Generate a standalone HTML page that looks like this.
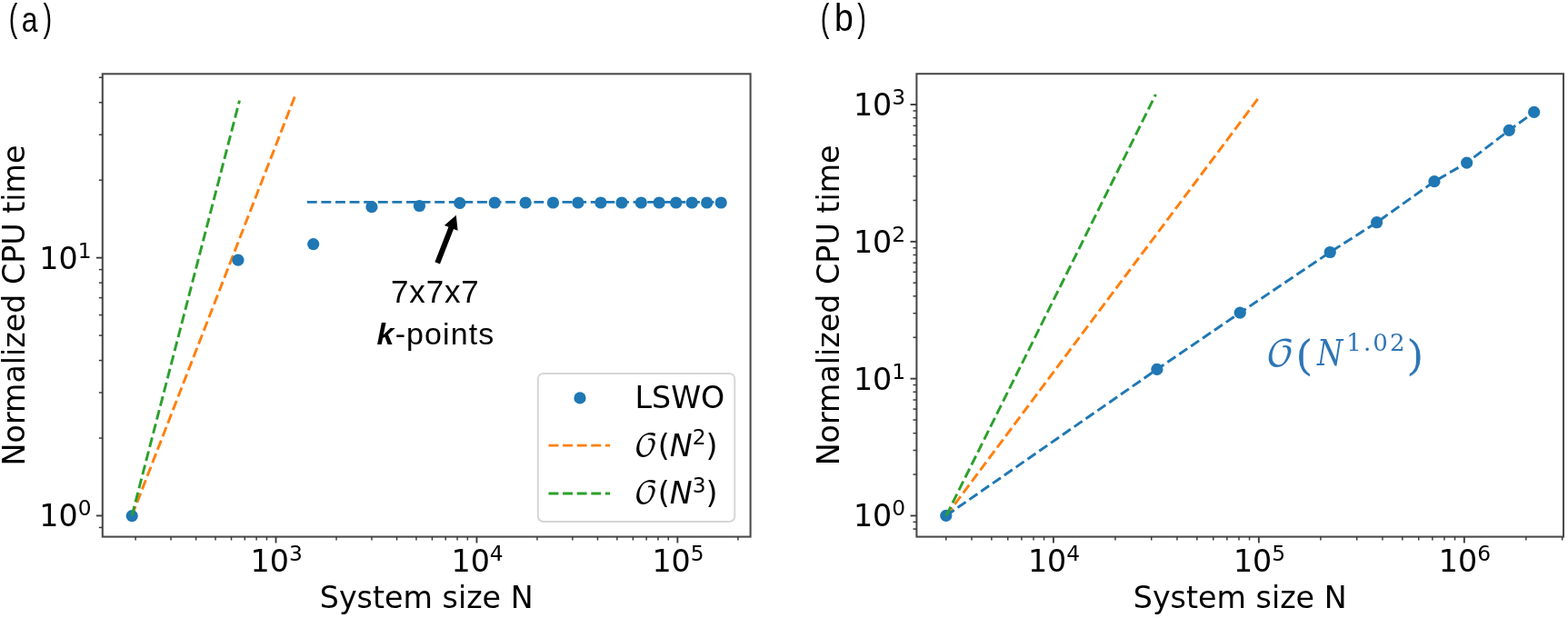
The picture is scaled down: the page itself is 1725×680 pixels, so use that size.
<!DOCTYPE html><html><head><meta charset="utf-8"><style>html,body{margin:0;padding:0;background:#fff}svg{display:block}.t{font-family:"DejaVu Sans",sans-serif;fill:#000}.c{font-family:"Liberation Sans",sans-serif;fill:#000}.m{font-family:"DejaVu Math TeX Gyre","DejaVu Serif",serif;fill:#2e75b6}.cal{font-family:"DejaVu Math TeX Gyre","DejaVu Serif",serif}</style></head><body>
<svg width="1725" height="680" viewBox="0 0 1725 680">
<rect width="1725" height="680" fill="#fff"/>
<text class="c" transform="translate(9.76,33.6) scale(0.68,1)" font-size="42.5">(</text><text class="c" transform="translate(23.76,34.6) scale(0.82,1)" font-size="39">a</text><text class="c" transform="translate(47.5,33.6) scale(0.68,1)" font-size="42.5">)</text>
<text class="c" transform="translate(902.66,33.6) scale(0.68,1)" font-size="42.5">(</text><text class="c" transform="translate(917.9,33.8) scale(0.89,1)" font-size="42">b</text><text class="c" transform="translate(943.3,33.6) scale(0.68,1)" font-size="42.5">)</text>
<rect x="112.8" y="81.3" width="712.80" height="509.30" fill="none" stroke="#4a4a4a" stroke-width="2.07" stroke-linejoin="miter"/>
<g stroke="#3a3a3a"><line x1="149.12" y1="590.60" x2="149.12" y2="594.52" stroke-width="1.48"/><line x1="188.02" y1="590.60" x2="188.02" y2="594.52" stroke-width="1.48"/><line x1="215.62" y1="590.60" x2="215.62" y2="594.52" stroke-width="1.48"/><line x1="237.03" y1="590.60" x2="237.03" y2="594.52" stroke-width="1.48"/><line x1="254.52" y1="590.60" x2="254.52" y2="594.52" stroke-width="1.48"/><line x1="269.31" y1="590.60" x2="269.31" y2="594.52" stroke-width="1.48"/><line x1="282.12" y1="590.60" x2="282.12" y2="594.52" stroke-width="1.48"/><line x1="293.43" y1="590.60" x2="293.43" y2="594.52" stroke-width="1.48"/><line x1="303.53" y1="590.60" x2="303.53" y2="597.47" stroke-width="1.87"/><line x1="370.04" y1="590.60" x2="370.04" y2="594.52" stroke-width="1.48"/><line x1="408.94" y1="590.60" x2="408.94" y2="594.52" stroke-width="1.48"/><line x1="436.54" y1="590.60" x2="436.54" y2="594.52" stroke-width="1.48"/><line x1="457.95" y1="590.60" x2="457.95" y2="594.52" stroke-width="1.48"/><line x1="475.44" y1="590.60" x2="475.44" y2="594.52" stroke-width="1.48"/><line x1="490.23" y1="590.60" x2="490.23" y2="594.52" stroke-width="1.48"/><line x1="503.05" y1="590.60" x2="503.05" y2="594.52" stroke-width="1.48"/><line x1="514.35" y1="590.60" x2="514.35" y2="594.52" stroke-width="1.48"/><line x1="524.46" y1="590.60" x2="524.46" y2="597.47" stroke-width="1.87"/><line x1="590.96" y1="590.60" x2="590.96" y2="594.52" stroke-width="1.48"/><line x1="629.86" y1="590.60" x2="629.86" y2="594.52" stroke-width="1.48"/><line x1="657.46" y1="590.60" x2="657.46" y2="594.52" stroke-width="1.48"/><line x1="678.87" y1="590.60" x2="678.87" y2="594.52" stroke-width="1.48"/><line x1="696.37" y1="590.60" x2="696.37" y2="594.52" stroke-width="1.48"/><line x1="711.16" y1="590.60" x2="711.16" y2="594.52" stroke-width="1.48"/><line x1="723.97" y1="590.60" x2="723.97" y2="594.52" stroke-width="1.48"/><line x1="735.27" y1="590.60" x2="735.27" y2="594.52" stroke-width="1.48"/><line x1="745.38" y1="590.60" x2="745.38" y2="597.47" stroke-width="1.87"/><line x1="811.88" y1="590.60" x2="811.88" y2="594.52" stroke-width="1.48"/><line x1="112.80" y1="580.44" x2="108.88" y2="580.44" stroke-width="1.48"/><line x1="112.80" y1="567.45" x2="105.93" y2="567.45" stroke-width="1.87"/><line x1="112.80" y1="482.02" x2="108.88" y2="482.02" stroke-width="1.48"/><line x1="112.80" y1="432.04" x2="108.88" y2="432.04" stroke-width="1.48"/><line x1="112.80" y1="396.58" x2="108.88" y2="396.58" stroke-width="1.48"/><line x1="112.80" y1="369.08" x2="108.88" y2="369.08" stroke-width="1.48"/><line x1="112.80" y1="346.61" x2="108.88" y2="346.61" stroke-width="1.48"/><line x1="112.80" y1="327.61" x2="108.88" y2="327.61" stroke-width="1.48"/><line x1="112.80" y1="311.15" x2="108.88" y2="311.15" stroke-width="1.48"/><line x1="112.80" y1="296.63" x2="108.88" y2="296.63" stroke-width="1.48"/><line x1="112.80" y1="283.64" x2="105.93" y2="283.64" stroke-width="1.87"/><line x1="112.80" y1="198.21" x2="108.88" y2="198.21" stroke-width="1.48"/><line x1="112.80" y1="148.24" x2="108.88" y2="148.24" stroke-width="1.48"/><line x1="112.80" y1="112.78" x2="108.88" y2="112.78" stroke-width="1.48"/><line x1="112.80" y1="85.27" x2="108.88" y2="85.27" stroke-width="1.48"/></g>
<text class="t" x="304.13" y="629.4" font-size="33.3" text-anchor="middle">10<tspan font-size="23.31" dy="-12">3</tspan></text>
<text class="t" x="525.06" y="629.4" font-size="33.3" text-anchor="middle">10<tspan font-size="23.31" dy="-12">4</tspan></text>
<text class="t" x="745.98" y="629.4" font-size="33.3" text-anchor="middle">10<tspan font-size="23.31" dy="-12">5</tspan></text>
<text class="t" x="100.50" y="579.45" font-size="33.3" text-anchor="end">10<tspan font-size="23.31" dy="-12">0</tspan></text>
<text class="t" x="100.50" y="295.64" font-size="33.3" text-anchor="end">10<tspan font-size="23.31" dy="-12">1</tspan></text>
<text class="t" x="469.20" y="669.2" font-size="33.3" text-anchor="middle">System size N</text>
<text class="t" transform="translate(27,335.95) rotate(-90)" x="0" y="0" font-size="33.3" text-anchor="middle">Normalized CPU time</text>
<defs><clipPath id="ca"><rect x="112.8" y="81.3" width="712.8000000000001" height="509.3"/></clipPath><clipPath id="cb"><rect x="1008.4" y="81.2" width="711.6" height="509.40000000000003"/></clipPath></defs>
<g clip-path="url(#ca)">
<polyline points="145.1,567.45 324.9,104.7" fill="none" stroke="#ff7f0e" stroke-width="2.94" stroke-dasharray="10.89,4.71"/>
<line x1="337.8" y1="222.4" x2="793.0" y2="222.4" stroke="#1f77b4" stroke-width="2.94" stroke-dasharray="10.89,4.71"/>
<circle cx="145.20" cy="567.60" r="6.6" fill="#1f77b4"/>
<circle cx="261.91" cy="286.19" r="6.6" fill="#1f77b4"/>
<circle cx="344.71" cy="268.59" r="6.6" fill="#1f77b4"/>
<circle cx="408.94" cy="227.69" r="6.6" fill="#1f77b4"/>
<circle cx="461.42" cy="226.49" r="6.6" fill="#1f77b4"/>
<circle cx="505.79" cy="223.39" r="6.6" fill="#1f77b4"/>
<circle cx="544.22" cy="222.99" r="6.6" fill="#1f77b4"/>
<circle cx="578.13" cy="222.99" r="6.6" fill="#1f77b4"/>
<circle cx="608.45" cy="222.99" r="6.6" fill="#1f77b4"/>
<circle cx="635.89" cy="222.99" r="6.6" fill="#1f77b4"/>
<circle cx="660.93" cy="222.99" r="6.6" fill="#1f77b4"/>
<circle cx="683.97" cy="222.99" r="6.6" fill="#1f77b4"/>
<circle cx="705.30" cy="222.99" r="6.6" fill="#1f77b4"/>
<circle cx="725.16" cy="222.99" r="6.6" fill="#1f77b4"/>
<circle cx="743.74" cy="222.99" r="6.6" fill="#1f77b4"/>
<circle cx="761.19" cy="222.99" r="6.6" fill="#1f77b4"/>
<circle cx="777.64" cy="222.99" r="6.6" fill="#1f77b4"/>
<circle cx="793.20" cy="222.99" r="6.6" fill="#1f77b4"/>
<polyline points="145.1,567.45 263.5,110.6" fill="none" stroke="#2ca02c" stroke-width="2.94" stroke-dasharray="10.89,4.71"/>
</g>
<polygon points="501.80,236.70 503.62,253.73 499.06,251.95 483.99,290.49 478.41,288.31 493.47,249.76 488.91,247.98" fill="#000"/>
<text class="c" x="478.8" y="333.1" font-size="35" letter-spacing="0.8" text-anchor="middle">7x7x7</text>
<text class="c" x="479.5" y="379.4" font-size="34" letter-spacing="1.1" text-anchor="middle"><tspan font-weight="bold" font-style="italic">k</tspan>-points</text>
<rect x="591.8" y="410.9" width="216.5" height="163.1" rx="6" ry="6" fill="#fff" fill-opacity="0.8" stroke="#d6d6d6" stroke-width="1.96"/>
<circle cx="638" cy="437.9" r="6.6" fill="#1f77b4"/>
<line x1="603.5" y1="490.1" x2="671.1" y2="490.1" stroke="#ff7f0e" stroke-width="2.94" stroke-dasharray="10.89,4.71"/>
<line x1="603.5" y1="543.0" x2="671.1" y2="543.0" stroke="#2ca02c" stroke-width="2.94" stroke-dasharray="10.89,4.71"/>
<text class="t" x="698.5" y="449.4" font-size="33.3">LSWO</text>
<text class="t" x="697.5" y="501.7" font-size="33.3"><tspan class="cal">&#x1D4AA;</tspan>(<tspan font-style="italic">N</tspan><tspan font-size="23.31" dy="-12.5">2</tspan><tspan dy="12.5">)</tspan></text>
<text class="t" x="697.5" y="554.0" font-size="33.3"><tspan class="cal">&#x1D4AA;</tspan>(<tspan font-style="italic">N</tspan><tspan font-size="23.31" dy="-12.5">3</tspan><tspan dy="12.5">)</tspan></text>
<rect x="1008.4" y="81.2" width="711.60" height="509.40" fill="none" stroke="#4a4a4a" stroke-width="2.07" stroke-linejoin="miter"/>
<g stroke="#3a3a3a"><line x1="1040.75" y1="590.60" x2="1040.75" y2="594.52" stroke-width="1.48"/><line x1="1068.98" y1="590.60" x2="1068.98" y2="594.52" stroke-width="1.48"/><line x1="1090.88" y1="590.60" x2="1090.88" y2="594.52" stroke-width="1.48"/><line x1="1108.77" y1="590.60" x2="1108.77" y2="594.52" stroke-width="1.48"/><line x1="1123.90" y1="590.60" x2="1123.90" y2="594.52" stroke-width="1.48"/><line x1="1137.00" y1="590.60" x2="1137.00" y2="594.52" stroke-width="1.48"/><line x1="1148.56" y1="590.60" x2="1148.56" y2="594.52" stroke-width="1.48"/><line x1="1158.90" y1="590.60" x2="1158.90" y2="597.47" stroke-width="1.87"/><line x1="1226.93" y1="590.60" x2="1226.93" y2="594.52" stroke-width="1.48"/><line x1="1266.72" y1="590.60" x2="1266.72" y2="594.52" stroke-width="1.48"/><line x1="1294.96" y1="590.60" x2="1294.96" y2="594.52" stroke-width="1.48"/><line x1="1316.85" y1="590.60" x2="1316.85" y2="594.52" stroke-width="1.48"/><line x1="1334.75" y1="590.60" x2="1334.75" y2="594.52" stroke-width="1.48"/><line x1="1349.88" y1="590.60" x2="1349.88" y2="594.52" stroke-width="1.48"/><line x1="1362.98" y1="590.60" x2="1362.98" y2="594.52" stroke-width="1.48"/><line x1="1374.54" y1="590.60" x2="1374.54" y2="594.52" stroke-width="1.48"/><line x1="1384.88" y1="590.60" x2="1384.88" y2="597.47" stroke-width="1.87"/><line x1="1452.91" y1="590.60" x2="1452.91" y2="594.52" stroke-width="1.48"/><line x1="1492.70" y1="590.60" x2="1492.70" y2="594.52" stroke-width="1.48"/><line x1="1520.93" y1="590.60" x2="1520.93" y2="594.52" stroke-width="1.48"/><line x1="1542.83" y1="590.60" x2="1542.83" y2="594.52" stroke-width="1.48"/><line x1="1560.72" y1="590.60" x2="1560.72" y2="594.52" stroke-width="1.48"/><line x1="1575.85" y1="590.60" x2="1575.85" y2="594.52" stroke-width="1.48"/><line x1="1588.96" y1="590.60" x2="1588.96" y2="594.52" stroke-width="1.48"/><line x1="1600.52" y1="590.60" x2="1600.52" y2="594.52" stroke-width="1.48"/><line x1="1610.86" y1="590.60" x2="1610.86" y2="597.47" stroke-width="1.87"/><line x1="1678.88" y1="590.60" x2="1678.88" y2="594.52" stroke-width="1.48"/><line x1="1718.67" y1="590.60" x2="1718.67" y2="594.52" stroke-width="1.48"/><line x1="1008.40" y1="582.06" x2="1004.48" y2="582.06" stroke-width="1.48"/><line x1="1008.40" y1="574.35" x2="1004.48" y2="574.35" stroke-width="1.48"/><line x1="1008.40" y1="567.45" x2="1001.53" y2="567.45" stroke-width="1.87"/><line x1="1008.40" y1="522.05" x2="1004.48" y2="522.05" stroke-width="1.48"/><line x1="1008.40" y1="495.50" x2="1004.48" y2="495.50" stroke-width="1.48"/><line x1="1008.40" y1="476.66" x2="1004.48" y2="476.66" stroke-width="1.48"/><line x1="1008.40" y1="462.04" x2="1004.48" y2="462.04" stroke-width="1.48"/><line x1="1008.40" y1="450.10" x2="1004.48" y2="450.10" stroke-width="1.48"/><line x1="1008.40" y1="440.01" x2="1004.48" y2="440.01" stroke-width="1.48"/><line x1="1008.40" y1="431.26" x2="1004.48" y2="431.26" stroke-width="1.48"/><line x1="1008.40" y1="423.55" x2="1004.48" y2="423.55" stroke-width="1.48"/><line x1="1008.40" y1="416.65" x2="1001.53" y2="416.65" stroke-width="1.87"/><line x1="1008.40" y1="371.26" x2="1004.48" y2="371.26" stroke-width="1.48"/><line x1="1008.40" y1="344.70" x2="1004.48" y2="344.70" stroke-width="1.48"/><line x1="1008.40" y1="325.86" x2="1004.48" y2="325.86" stroke-width="1.48"/><line x1="1008.40" y1="311.25" x2="1004.48" y2="311.25" stroke-width="1.48"/><line x1="1008.40" y1="299.31" x2="1004.48" y2="299.31" stroke-width="1.48"/><line x1="1008.40" y1="289.21" x2="1004.48" y2="289.21" stroke-width="1.48"/><line x1="1008.40" y1="280.47" x2="1004.48" y2="280.47" stroke-width="1.48"/><line x1="1008.40" y1="272.76" x2="1004.48" y2="272.76" stroke-width="1.48"/><line x1="1008.40" y1="265.86" x2="1001.53" y2="265.86" stroke-width="1.87"/><line x1="1008.40" y1="220.46" x2="1004.48" y2="220.46" stroke-width="1.48"/><line x1="1008.40" y1="193.91" x2="1004.48" y2="193.91" stroke-width="1.48"/><line x1="1008.40" y1="175.07" x2="1004.48" y2="175.07" stroke-width="1.48"/><line x1="1008.40" y1="160.45" x2="1004.48" y2="160.45" stroke-width="1.48"/><line x1="1008.40" y1="148.51" x2="1004.48" y2="148.51" stroke-width="1.48"/><line x1="1008.40" y1="138.42" x2="1004.48" y2="138.42" stroke-width="1.48"/><line x1="1008.40" y1="129.67" x2="1004.48" y2="129.67" stroke-width="1.48"/><line x1="1008.40" y1="121.96" x2="1004.48" y2="121.96" stroke-width="1.48"/><line x1="1008.40" y1="115.06" x2="1001.53" y2="115.06" stroke-width="1.87"/></g>
<text class="t" x="1159.50" y="629.4" font-size="33.3" text-anchor="middle">10<tspan font-size="23.31" dy="-12">4</tspan></text>
<text class="t" x="1385.48" y="629.4" font-size="33.3" text-anchor="middle">10<tspan font-size="23.31" dy="-12">5</tspan></text>
<text class="t" x="1611.46" y="629.4" font-size="33.3" text-anchor="middle">10<tspan font-size="23.31" dy="-12">6</tspan></text>
<text class="t" x="996.10" y="579.45" font-size="33.3" text-anchor="end">10<tspan font-size="23.31" dy="-12">0</tspan></text>
<text class="t" x="996.10" y="428.65" font-size="33.3" text-anchor="end">10<tspan font-size="23.31" dy="-12">1</tspan></text>
<text class="t" x="996.10" y="277.86" font-size="33.3" text-anchor="end">10<tspan font-size="23.31" dy="-12">2</tspan></text>
<text class="t" x="996.10" y="127.06" font-size="33.3" text-anchor="end">10<tspan font-size="23.31" dy="-12">3</tspan></text>
<text class="t" x="1364.20" y="669.2" font-size="33.3" text-anchor="middle">System size N</text>
<text class="t" transform="translate(923.20,335.90) rotate(-90)" x="0" y="0" font-size="33.3" text-anchor="middle">Normalized CPU time</text>
<g clip-path="url(#cb)">
<polyline points="1041.0,567.4 1384.2,108.1" fill="none" stroke="#ff7f0e" stroke-width="2.94" stroke-dasharray="10.89,4.71"/>
<polyline points="1040.75,567.45 1272.88,406.38 1364.20,344.15 1463.26,277.52 1514.60,244.71 1577.93,199.69 1613.66,179.08 1660.25,143.36 1687.65,123.45" fill="none" stroke="#1f77b4" stroke-width="2.94" stroke-dasharray="10.89,4.71"/>
<circle cx="1040.75" cy="567.45" r="6.6" fill="#1f77b4"/>
<circle cx="1272.88" cy="406.38" r="6.6" fill="#1f77b4"/>
<circle cx="1364.20" cy="344.15" r="6.6" fill="#1f77b4"/>
<circle cx="1463.26" cy="277.52" r="6.6" fill="#1f77b4"/>
<circle cx="1514.60" cy="244.71" r="6.6" fill="#1f77b4"/>
<circle cx="1577.93" cy="199.69" r="6.6" fill="#1f77b4"/>
<circle cx="1613.66" cy="179.08" r="6.6" fill="#1f77b4"/>
<circle cx="1660.25" cy="143.36" r="6.6" fill="#1f77b4"/>
<circle cx="1687.65" cy="123.45" r="6.6" fill="#1f77b4"/>
<polyline points="1041.0,567.4 1271.5,103.9" fill="none" stroke="#2ca02c" stroke-width="2.94" stroke-dasharray="10.89,4.71"/>
</g>
<g class="m" font-size="40"><text x="1392.5" y="402.5">&#x1D4AA;</text><text x="1423.6" y="406" font-size="47">(</text><text transform="translate(1445.7,402) scale(0.81,1)">&#x1D441;</text><text x="1481.2" y="385.9" font-size="26" letter-spacing="2.2">1.02</text><text x="1548.2" y="406" font-size="47">)</text></g>
</svg></body></html>
